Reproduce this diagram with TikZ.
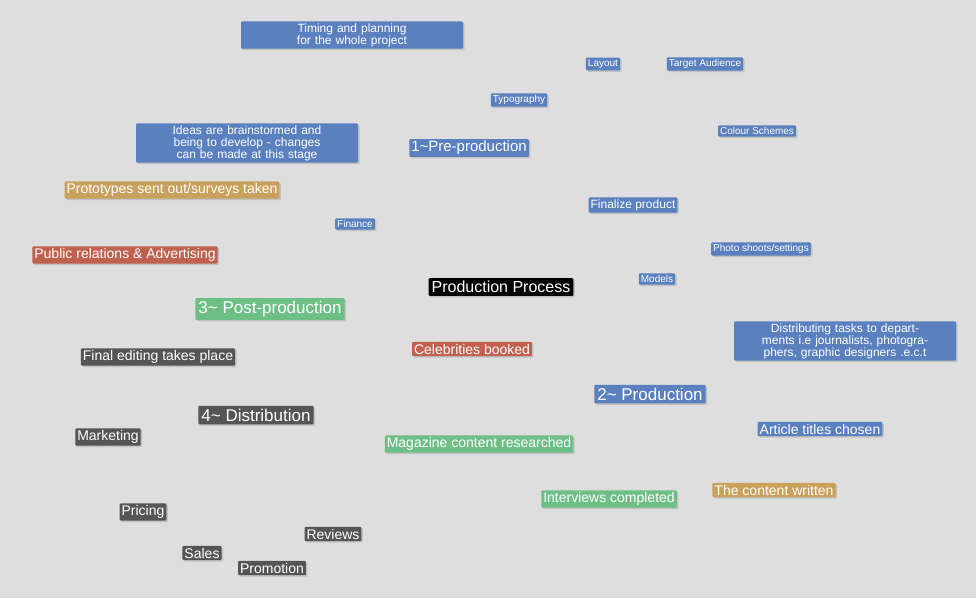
\documentclass[tikz,border=0pt]{standalone}
\usepackage{fontspec}
\setmainfont{Liberation Sans}
\usetikzlibrary{backgrounds,shadows}
\definecolor{nblue}{HTML}{5A80C0}
\definecolor{nred}{HTML}{C0604E}
\definecolor{norange}{HTML}{C9A05C}
\definecolor{ngreen}{HTML}{6DBF86}
\definecolor{ngray}{HTML}{555555}
\definecolor{link}{HTML}{5FA9A2}
\tikzset{
 box/.style={inner sep=2pt, rounded corners=1pt, text=white, align=center,
   drop shadow={opacity=0.3,shadow xshift=1.5pt,shadow yshift=-1.5pt}},
 sm/.style={box, fill=nblue, font=\fontsize{10}{10}\selectfont},
 md/.style={box, font=\fontsize{14}{14}\selectfont},
 lg/.style={box, font=\fontsize{17}{17}\selectfont, inner sep=3pt},
 txt/.style={box, fill=nblue, font=\fontsize{12}{12}\selectfont, text width=218pt, inner sep=2pt},
 ln/.style={link, line width=2.2pt}
}
\begin{document}
\begin{tikzpicture}[x=1pt,y=-1pt]
\fill[black!13] (0,0) rectangle (976,598);
\useasboundingbox (0,0) rectangle (976,598);
\node[box,fill=black,font=\fontsize{16}{16}\selectfont,inner sep=3pt] (c) at (501,287) {Production Process};
\node[md,fill=nblue,font=\fontsize{15}{15}\selectfont] (pre) at (469,148) {1\textasciitilde Pre-production};
\node[txt] (tim) at (352,35) {Timing and planning for the whole project};
\node[txt] (idea) at (247,143) {Ideas are brainstormed and being to develop - changes can be made at this stage};
\node[sm] (fin) at (355,224) {Finance};
\node[sm,font=\fontsize{12}{12}\selectfont] (fp) at (633,205) {Finalize product};
\node[sm] (typ) at (519,100) {Typography};
\node[sm] (lay) at (603,64) {Layout};
\node[sm] (ta) at (705,64) {Target Audience};
\node[sm] (col) at (757,131) {Colour Schemes};
\node[sm] (ph) at (761,249) {Photo shoots/settings};
\node[sm] (mod) at (657,279) {Models};
\node[lg,fill=ngreen] (post) at (270,309) {3\textasciitilde{} Post-production};
\node[md,fill=norange] (proto) at (172,190) {Prototypes sent out/surveys taken};
\node[md,fill=nred] (pr) at (125,255) {Public relations \& Advertising};
\node[md,fill=ngray] (fe) at (158,357) {Final editing takes place};
\node[lg,fill=nblue] (prod) at (650,394) {2\textasciitilde{} Production};
\node[md,fill=nred] (cel) at (472,349) {Celebrities booked};
\node[txt] (dist) at (845,341) {Distributing tasks to departments i.e journalists, photographers, graphic designers .e.c.t};
\node[md,fill=nblue] (art) at (820,429) {Article titles chosen};
\node[md,fill=ngreen] (mag) at (479,444) {Magazine content researched};
\node[md,fill=norange] (cw) at (774,490) {The content written};
\node[md,fill=ngreen] (int) at (609,499) {Interviews completed};
\node[lg,fill=ngray] (di) at (256,415) {4\textasciitilde{} Distribution};
\node[md,fill=ngray] (mk) at (108,437) {Marketing};
\node[md,fill=ngray] (pri) at (143,512) {Pricing};
\node[md,fill=ngray] (sa) at (202,553) {Sales};
\node[md,fill=ngray] (pro) at (272,568) {Promotion};
\node[md,fill=ngray] (rev) at (333,534) {Reviews};
\begin{scope}[on background layer]
\foreach \a/\b in {c/pre,c/post,c/prod,c/di,pre/tim,pre/idea,pre/fin,pre/fp,fp/typ,fp/lay,fp/ta,fp/col,fp/ph,fp/mod,post/proto,post/pr,post/fe,prod/cel,prod/dist,prod/art,prod/mag,prod/int,prod/cw,di/mk,di/pri,di/sa,di/pro,di/rev}
  \draw[ln] (\a.center) -- (\b.center);
\end{scope}
\end{tikzpicture}
\end{document}
